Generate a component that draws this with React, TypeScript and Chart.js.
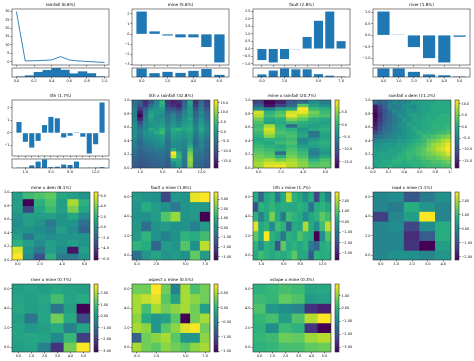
import React, { useEffect, useRef } from 'react';
import { Chart, registerables } from 'chart.js';

Chart.register(...registerables);

const FONT = 'DejaVu Sans';
Chart.defaults.font.family = FONT;

// ================= DATA =================
// categories
const mineCats = [0, 1, 2, 3, 4, 5, 6];
const faultCats = [0, 1, 2, 3, 4, 5, 6, 7];
const riverCats = [0, 1, 2, 3, 4, 5];
const lithCats = [0, 1, 2, 3, 4, 5, 6, 7, 8, 9, 10, 11, 12, 13];
const roadCats = [0, 1, 2, 3, 4];
const aspectCats = [0, 1, 2, 3, 4, 5, 6, 7];
const vslopeCats = [0, 1, 2, 3, 4, 5];

// rainfall (6.8%) shape function + histogram
const rainfallX = [0.0, 0.1, 0.2, 0.3, 0.4, 0.5, 0.6, 0.7, 0.8, 0.9, 1.0];
const rainfallEffect = [30, 0.4, 0.5, 0.7, 1.0, 3.0, 1.0, 0.4, 0.1, -0.2, -0.5];
const rainfallHistX = [0.05, 0.15, 0.25, 0.35, 0.45, 0.55, 0.65, 0.75, 0.85, 0.95];
const rainfallHist = [0.02, 0.15, 0.55, 0.78, 1.0, 0.8, 0.38, 0.62, 0.4, 0.03];

// mine (5.8%)
const mineEffect = [2.23, 0.27, -0.14, -0.32, -0.32, -1.27, -2.8];
const mineHist = [1.0, 0.45, 0.6, 0.48, 0.72, 0.93, 0.25];

// fault (2.8%)
const faultEffect = [-0.76, -0.92, -0.69, -0.03, 0.79, 1.88, 2.5, 0.51];
const faultHist = [0.3, 0.75, 1.0, 0.9, 0.9, 0.33, 0.15, 0.04];

// river (1.8%)
const riverEffect = [1.03, 0.02, -0.52, -1.0, -1.19, -0.07];
const riverHist = [1.0, 1.0, 0.6, 0.3, 0.2, 0.05];

// lith (1.7%)
const lithEffect = [0.87, -0.71, -1.17, -0.63, 0.63, 1.28, 1.17, -0.36, -0.22, 0.05, -0.3, -1.64, -0.9, 2.43];
const lithHist = [0.04, 0.04, 0.3, 0.75, 1.0, 0.1, 0.15, 0.4, 0.35, 0.75, 0.02, 0.03, 0.04, 0.1];

// heatmaps: rows listed top (highest y) to bottom
// lith x rainfall (32.8%): 20 rainfall bins x 14 lith classes
const lithRainGrid = [
  [-6, -8, -14, -9, -3, 4, -13, -15, -14, -8, 2, -14, -6, -12],
  [-5, -9, -13, -6, -2, 3, -12, -14, -15, -7, 1, -13, -5, -11],
  [-4, -12, -8, -2, -1, 1, -9, -10, -12, -5, 0, -10, -4, -9],
  [-3, -16, -6, 1, 0, -1, -7, -5, -8, -3, 1, -8, -2, -7],
  [-4, -18.6, -5, 2, -1, -2, -6, -3, -6, -2, 0, -7, -3, -6],
  [-3, -15, -4, 1, -2, -1, -5, -2, -5, -1, 2, -6, -1, -5],
  [-2, -10, -3, 0, -1, 0, -4, -1, -3, 0, 1, -5, 0, -4],
  [-1, -7, -2, -1, 0, 1, -3, 0, -2, 1, 2, -4, 1, -3],
  [-1, -5, -2, 2, 1, 4, -2, 3, 4, 2, 3, -3, 2, -2],
  [-2, -4, -1, 0, 3, 5, -3, 2, 1, 0, 2, -4, 0, -3],
  [-1, -5, -2, -1, 0, 1, -4, 1, 0, -1, 1, -5, -1, -4],
  [-3, -6, -3, -2, -1, 0, -5, 0, -1, -2, 0, -6, -2, -5],
  [-4, -7, -4, -3, -2, -1, -6, -1, -2, -3, 1, -7, -3, -6],
  [-4, -6, -5, -4, -3, -2, -6, -2, -3, -3, 3, -6, -3, -6],
  [-5, -7, -6, -5, -4, -4, -6, 2, -2, -4, 6, -5, -4, -7],
  [-6, -8, -7, -6, -6, -5, -7, 16.4, 3, -4, 9, -5, -5, -7],
  [-7, -8, -8, -7, -6, -6, -7, 14, 4, -4, 10, -6, -6, -8],
  [-7, -9, -8, -7, -7, -6, -8, 3, 2, -5, 11, -6, -6, -8],
  [-8, -9, -9, -8, -7, -7, -8, -2, 1, -5, 10, -7, -7, -9],
  [-8, -10, -9, -8, -8, -7, -9, -3, 0, -6, 9, -7, -7, -9],
];

// mine x rainfall (20.7%): 20 rainfall bins x 7 mine classes
const mineRainGrid = [
  [-12, -17.5, -15, -10, -8, -4, -6],
  [-9, -16, -12, -8, 3, -2, -4],
  [-4, -6, -2, -1, 10, 1, 0],
  [8, 0, 2, 8, 9, 4, 1],
  [7, 1, 3, 9, 6, 3, 2],
  [4, -1, 0, 5, 3, 0, -1],
  [2, -2, -1, 1, 0, -1, -2],
  [1, 6, 0, -8, -1, -2, -1],
  [2, 8, 1, 0, -3, -1, 0],
  [1, 7, 2, 1, -2, -7, -1],
  [0, 5, 1, 2, -1, -6, -2],
  [-1, 0, 0, 1, -5, -3, -1],
  [0, -1, 1, 2, -4, -1, 0],
  [1, 0, -1, 1, -2, -2, -1],
  [2, 1, 0, 2, 0, -5, -2],
  [3, 2, -8, 3, 1, -6, -3],
  [4, 3, 0, 4, 2, -4, -1],
  [5, 6, 4, 6, 4, 0, 2],
  [6, 8, 8, 7, 5, 2, 3],
  [6, 9, 9.5, 7, 5, 3, 3],
];

// rainfall x dem (11.2%): 16 dem bins (rows) x 16 rainfall bins (cols)
const rainDemGrid = [
  [-7, -9, -8, -6, -4, -5, -4, -3, -2, -2, -1, -1, -1, 0, 0, 0],
  [-16, -12, -9, -5, -6, -5, -3, -3, -4, -2, -1, -1, 0, 0, 0, 0],
  [-17, -13, -10, -7, -4, -5, -4, -2, -3, -2, -1, -1, 0, 0, 0, 0],
  [-18.1, -14, -10, -8, -6, -3, -4, -2, -1, -2, -1, 0, 0, 0, 1, 1],
  [-17, -13, -10, -8, -6, -5, -2, -3, -1, -1, -1, 0, 0, 1, 1, 1],
  [-16, -12, -9, -7, -6, -4, -3, -1, -2, -1, 0, 0, 1, 1, 1, 1],
  [-15, -11, -8, -7, -5, -4, -3, -2, 0, -1, 0, 0, 1, 1, 1, 2],
  [-12, -9, -7, -6, -5, -4, -3, -2, -1, 1, 0, 1, 1, 2, 2, 3],
  [-8, -7, -6, -5, -4, -3, -3, -2, -1, 0, 2, 2, 3, 4, 5, 6],
  [-5, -4, -4, -3, -3, -2, -2, -1, 0, 1, 2, 4, 5, 6, 8, 9],
  [-3, -3, -2, -2, -2, -1, -1, 0, 1, 2, 3, 5, 7, 8, 9, 11],
  [-2, -2, -2, -1, -1, -1, 0, 1, 2, 3, 4, 6, 7, 9, 10, 11.75],
  [-2, -1, -1, -1, -1, 0, 1, 2, 2, 3, 4, 5, 6, 7, 8, 10],
  [-1, -1, -1, -1, 0, 1, 1, 2, 1, 2, 3, 4, 4, 5, 6, 7],
  [-1, -1, 0, 0, 1, 1, 0, 1, 1, 1, 2, 2, 3, 3, 4, 5],
  [-1, 0, 0, 1, 0, 0, 0, 0, 1, 1, 1, 2, 2, 2, 3, 3],
];

// mine x dem (8.1%): 10 dem bins x 7 mine classes
const mineDemGrid = [
  [1.0, 2.5, 3.0, 3.5, 1.5, 1.0, 0.5],
  [1.0, -6.2, 2.0, 3.0, 1.0, 5.0, 2.0],
  [1.0, -3.5, 1.5, 2.5, 1.0, 4.0, 1.5],
  [0.5, 1.0, 1.0, 1.0, 0.5, 1.5, 0.0],
  [0.0, 1.0, 0.5, -1.0, 0.5, 0.5, -1.5],
  [0.5, 0.5, 0.0, -0.5, 1.0, 0.0, -2.0],
  [1.0, -1.0, 0.5, 0.0, 0.5, 0.5, 0.5],
  [2.0, 1.0, 0.0, 1.0, 0.5, 1.0, 0.5],
  [6.0, 0.5, -1.0, 1.0, 0.0, -5.5, 1.0],
  [6.7, 0.0, -3.0, 2.0, -1.0, -1.0, 0.5],
];

// fault x mine (1.8%): mine 6..0 (rows) x fault 0..7
const faultMineGrid = [
  [0.5, 0.3, 0.2, -1.8, 0.4, 0.3, 3.5, 3.73],
  [0.3, 1.0, 0.5, 0.2, -0.5, 0.3, 0.5, 0.4],
  [0.3, 0.2, 0.5, 1.8, 2.6, 0.3, 0.4, -3.34],
  [0.4, -0.8, 0.3, 0.5, 0.2, 0.3, -0.3, 0.5],
  [0.5, 1.2, 0.3, -0.3, 0.2, 1.2, 1.0, 1.5],
  [1.2, 1.0, -1.0, 0.5, 0.3, 1.8, 0.2, 3.0],
  [-0.8, 0.3, 0.8, 0.3, 0.5, 0.2, 2.0, 0.5],
];

// lith x mine (1.7%): mine 6..0 x lith 0..13
const lithMineGrid = [
  [0.3, -1.5, 0.2, 0.5, -1.0, 0.3, 2.3, 0.5, 0.2, -0.5, 0.3, -2.2, 0.2, -0.8],
  [-2.0, 0.5, 0.3, 0.6, 0.2, 0.4, 0.3, 0.2, 0.5, 0.3, -1.2, 0.3, 0.5, 0.2],
  [0.5, -0.8, 0.2, 1.5, 0.3, -1.0, 0.8, 0.5, 0.3, -0.5, 0.2, 0.5, 1.2, 0.8],
  [2.6, 0.2, 0.5, -0.5, 0.8, 0.5, -1.5, 0.3, 0.2, 2.0, 0.3, -0.5, 0.8, 2.2],
  [1.2, 0.3, 2.86, 0.5, 0.2, -1.0, 0.5, 0.3, 1.0, 0.5, 0.3, -3.64, -0.5, 1.0],
  [0.5, -0.5, 0.5, 0.3, -2.0, 1.2, 0.3, 0.5, 0.2, 0.5, -1.0, -1.5, 0.3, 0.5],
  [0.3, 0.8, 0.5, 0.2, 0.5, 0.3, 0.5, 1.2, 0.3, 0.2, -1.8, 0.5, 0.3, 0.4],
];

// road x mine (1.1%): mine 6..0 x road 0..4
const roadMineGrid = [
  [0.0, 0.1, -0.9, -0.2, 0.2],
  [0.0, -0.2, 0.8, 0.3, 0.0],
  [-1.3, 0.0, 0.5, 2.65, 0.0],
  [0.0, 0.1, -1.2, 0.1, 0.8],
  [0.0, 0.0, -1.6, -0.8, 0.8],
  [0.0, 0.0, -1.5, -2.24, 0.5],
  [0.0, 0.2, 0.2, 0.0, 0.3],
];

// river x mine (0.7%): mine 6..0 x river 0..5
const riverMineGrid = [
  [0.2, 0.3, 0.2, 0.4, 0.3, 0.2],
  [0.3, 0.2, 0.4, 1.0, 0.3, 0.5],
  [0.4, 0.2, 0.3, -0.8, 0.2, -3.09],
  [0.2, -0.8, 0.3, 1.5, 0.5, -1.8],
  [0.3, 0.0, 0.2, 0.5, -0.5, 0.3],
  [0.3, 0.4, 0.3, -0.3, 0.8, -2.0],
  [0.2, 0.3, -0.5, -2.2, 1.5, 2.8],
];

// aspect x mine (0.5%): mine 6..0 x aspect 0..7
const aspectMineGrid = [
  [0.3, 0.3, 0.82, 0.3, -0.5, 0.5, 0.1, 0.3],
  [0.5, 0.6, 0.7, 0.2, -0.2, 0.5, 0.4, 0.3],
  [0.5, 0.1, 0.5, 0.3, 0.4, 0.5, 0.3, -0.2],
  [0.4, -0.1, -0.3, -0.2, 0.2, -1.53, 0.3, 0.5],
  [0.5, 0.4, -0.3, 0.2, 0.4, 0.7, 0.8, 0.3],
  [-0.8, 0.3, 0.4, 0.5, 0.2, -0.3, -0.3, 0.4],
  [0.5, 0.3, 0.2, 0.4, 0.3, 0.2, 0.4, 0.5],
];

// vslope x mine (0.3%): mine 6..0 x vslope 0..5
const vslopeMineGrid = [
  [0.0, 0.1, 0.3, 0.2, -0.3, -0.2],
  [0.2, 0.1, 0.6, 0.4, -0.5, -0.4],
  [0.4, -0.6, -0.8, -1.0, -2.6, -2.9],
  [0.1, 0.3, -0.5, 0.4, 1.3, 1.9],
  [0.0, -0.8, 0.2, 0.0, -2.6, -3.36],
  [0.1, 0.2, 0.7, 0.6, 1.1, 1.3],
  [0.0, 0.1, 0.3, 0.3, 0.6, 0.7],
];

// tick values
const unitTicks = [0, 0.2, 0.4, 0.6, 0.8, 1.0];
const rainfallYTicks = [0, 5, 10, 15, 20, 25, 30];
const mineYTicks = [-3, -2, -1, 0, 1, 2];
const faultYTicks = [-1, -0.5, 0, 0.5, 1, 1.5, 2, 2.5];
const riverYTicks = [-1, -0.5, 0, 0.5, 1];
const lithYTicks = [-1, 0, 1, 2];
const mineLabelTicks = [0, 2, 4, 6];
const faultLabelTicks = [0, 2, 5, 7];
const lithLabelTicks = [1, 5, 8, 12];
const aspectLabelTicks = [0, 2, 5, 7];
const cbLithRain = [-15, -10, -5, 0, 5, 10, 15];
const cbMineRain = [-15, -10, -5, 0, 5];
const cbRainDem = [-15, -10, -5, 0, 5, 10];
const cbMineDem = [-6, -4, -2, 0, 2, 4, 6];
const cbFaultMine = [-3, -2, -1, 0, 1, 2, 3];
const cbLithMine = [-3, -2, -1, 0, 1, 2];
const cbRoadMine = [-2, -1, 0, 1, 2];
const cbRiverMine = [-3, -2, -1, 0, 1, 2];
const cbAspectMine = [-1.5, -1, -0.5, 0, 0.5];
const cbVslopeMine = [-3, -2, -1, 0, 1];

// ================= STYLE / LAYOUT =================
const TICK_PX = 3.5;
const TITLE_PX = 4.2;
const BLUE = '#1f77b4';
const INK = '#111111';
const COL_L = [12, 132, 253, 373];
const ROW_T = [9, 100, 192, 284];
const PAD_L = 14;
const TITLE_H = 8;
const LABEL_H = 8;
const BAR_W = 97;
const MAIN_H = 56;
const GAP = 3;
const HIST_H = 9;
const MARK_H = 3;
const HEAT_W = 78;
const HEAT_H = 68;
const CB_OFF = 82;
const CB_W = 4;
const CB_LAB = 18;

const VIRIDIS = [
  [68, 1, 84], [71, 44, 122], [59, 82, 139], [44, 114, 142], [33, 145, 140],
  [40, 174, 128], [94, 201, 98], [173, 220, 48], [253, 231, 37],
];
function viridis(t: number): string {
  const u = Math.max(0, Math.min(1, t)) * (VIRIDIS.length - 1);
  const i = Math.min(VIRIDIS.length - 2, Math.floor(u));
  const f = u - i;
  const a = VIRIDIS[i];
  const b = VIRIDIS[i + 1];
  const c = [0, 1, 2].map((k) => Math.round(a[k] + (b[k] - a[k]) * f));
  return `rgb(${c[0]},${c[1]},${c[2]})`;
}
function viridisGradient(chart: any) {
  const a = chart.chartArea;
  if (!a) return viridis(0.5);
  const g = chart.ctx.createLinearGradient(0, a.bottom, 0, a.top);
  VIRIDIS.forEach((c, i) => g.addColorStop(i / (VIRIDIS.length - 1), `rgb(${c[0]},${c[1]},${c[2]})`));
  return g;
}

const fmt = (v: number, d: number) => (v < 0 ? '\u2212' : '') + Math.abs(v).toFixed(d);
const fmtAll = (vs: number[], d: number) => vs.map((v) => fmt(v, d));

type Ax = { min: number; max: number; ticks: number[]; labels?: string[] };

function mkScale(a: Ax, position: string, size: number, marks = true): any {
  return {
    type: 'linear',
    position,
    min: a.min,
    max: a.max,
    offset: false,
    grid: {
      display: true,
      drawOnChartArea: false,
      drawTicks: marks,
      tickLength: 1.6,
      tickWidth: 0.5,
      tickColor: INK,
      lineWidth: 0.5,
      color: INK,
      offset: false,
    },
    border: { display: false },
    ticks: {
      display: !!a.labels,
      autoSkip: false,
      maxRotation: 0,
      minRotation: 0,
      padding: 0.8,
      color: INK,
      font: { family: FONT, size: TICK_PX },
      callback: (_v: any, i: number) => (a.labels ? a.labels[i] : ''),
    },
    afterBuildTicks: (s: any) => {
      s.ticks = a.ticks.map((value) => ({ value }));
    },
    afterFit: (s: any) => {
      if (position === 'bottom' || position === 'top') s.height = size;
      else s.width = size;
      s.paddingLeft = 0;
      s.paddingRight = 0;
      s.paddingTop = 0;
      s.paddingBottom = 0;
    },
  };
}

const framePlugin = {
  id: 'frame',
  afterDraw(chart: any) {
    const { ctx, chartArea: a } = chart;
    ctx.save();
    ctx.strokeStyle = '#333';
    ctx.lineWidth = 0.6;
    ctx.strokeRect(a.left, a.top, a.right - a.left, a.bottom - a.top);
    ctx.restore();
  },
};

function baseOptions(padding: any, title?: string): any {
  return {
    responsive: false,
    animation: false,
    devicePixelRatio: 1,
    events: [],
    layout: { padding, autoPadding: false },
    plugins: {
      legend: { display: false },
      tooltip: { enabled: false },
      title: title
        ? {
            display: true,
            text: title,
            fullSize: false,
            align: 'center',
            color: '#000',
            font: { family: FONT, size: TITLE_PX, weight: 'normal', lineHeight: 1.2 },
            padding: { top: 1.3, bottom: TITLE_H - 1.3 - TITLE_PX * 1.2 },
          }
        : { display: false },
    },
  };
}

type Spec = { key: string; x: number; y: number; w: number; h: number; make: () => any };

function barPanel(
  key: string, col: number, row: number, title: string, kind: 'bar' | 'line',
  xs: number[], ys: number[], xr: [number, number], yAx: Ax, marks: number[],
  hx: number[], hy: number[], histAx: Ax, histPct: number,
): Spec[] {
  const L = COL_L[col];
  const T = ROW_T[row];
  const w = PAD_L + BAR_W + 2;
  return [
    {
      key: key + '-main', x: L - PAD_L, y: T - TITLE_H, w, h: TITLE_H + MAIN_H + MARK_H,
      make: () => ({
        type: kind,
        data: {
          datasets: [{
            data: xs.map((x, i) => ({ x, y: ys[i] })),
            backgroundColor: BLUE, borderColor: BLUE,
            borderWidth: kind === 'line' ? 0.9 : 0,
            pointRadius: 0, tension: 0, fill: false,
            barPercentage: 0.8, categoryPercentage: 1,
          }],
        },
        options: {
          ...baseOptions({ top: 0, left: 0, right: 2, bottom: 0 }, title),
          scales: {
            x: mkScale({ min: xr[0], max: xr[1], ticks: marks }, 'bottom', MARK_H),
            y: mkScale(yAx, 'left', PAD_L),
          },
        },
        plugins: [framePlugin],
      }),
    },
    {
      key: key + '-hist', x: L - PAD_L, y: T + MAIN_H + GAP - 1, w, h: 1 + HIST_H + LABEL_H,
      make: () => ({
        type: 'bar',
        data: {
          datasets: [{
            data: hx.map((x, i) => ({ x, y: hy[i] })),
            backgroundColor: BLUE, borderWidth: 0,
            barPercentage: histPct, categoryPercentage: 1,
          }],
        },
        options: {
          ...baseOptions({ top: 1, left: PAD_L, right: 2, bottom: 0 }),
          scales: {
            x: mkScale({ ...histAx, min: xr[0], max: xr[1] }, 'bottom', LABEL_H),
            y: { type: 'linear', display: false, min: 0, max: 1.05 },
          },
        },
        plugins: [framePlugin],
      }),
    },
  ];
}

function unitBands(n: number): [number, number][] {
  const out: [number, number][] = [];
  for (let r = 0; r < n; r++) out.push([1 - (r + 1) / n, 1 - r / n]);
  return out;
}
function unitCenters(n: number): number[] {
  const out: number[] = [];
  for (let i = 0; i < n; i++) out.push((i + 0.5) / n);
  return out;
}
function catBands(cats: number[]): [number, number][] {
  return cats.slice().reverse().map((c) => [c - 0.5, c + 0.5] as [number, number]);
}

function heatPanel(
  key: string, col: number, row: number, title: string, grid: number[][],
  xCenters: number[], yBands: [number, number][], xAx: Ax, yAx: Ax, cbTicks: number[], cbDigits: number,
): Spec[] {
  const L = COL_L[col];
  const T = ROW_T[row];
  const flat = grid.flat();
  const vmin = Math.min(...flat);
  const vmax = Math.max(...flat);
  return [
    {
      key: key + '-heat', x: L - PAD_L, y: T - TITLE_H, w: PAD_L + HEAT_W + 1, h: TITLE_H + HEAT_H + LABEL_H,
      make: () => ({
        type: 'bar',
        data: {
          datasets: grid.map((rowVals, r) => ({
            data: rowVals.map((_v, c) => ({ x: xCenters[c], y: yBands[r] })),
            backgroundColor: rowVals.map((v) => viridis((v - vmin) / (vmax - vmin))),
            borderWidth: 0, barPercentage: 1, categoryPercentage: 1, grouped: false, inflateAmount: 0.4,
          })),
        },
        options: {
          ...baseOptions({ top: 0, left: 0, right: 1, bottom: 0 }, title),
          scales: { x: mkScale(xAx, 'bottom', LABEL_H), y: mkScale(yAx, 'left', PAD_L) },
        },
        plugins: [framePlugin],
      }),
    },
    {
      key: key + '-cb', x: L + CB_OFF - 1, y: T - 1, w: 1 + CB_W + CB_LAB, h: HEAT_H + 2,
      make: () => ({
        type: 'bar',
        data: {
          datasets: [{
            data: [{ x: 0, y: [vmin, vmax] }],
            backgroundColor: (ctx: any) => viridisGradient(ctx.chart),
            borderWidth: 0, barThickness: CB_W, inflateAmount: 0,
          }],
        },
        options: {
          ...baseOptions({ top: 1, left: 1, right: 0, bottom: 1 }),
          scales: {
            x: { type: 'linear', display: false, min: -0.5, max: 0.5, offset: false },
            y: mkScale({ min: vmin, max: vmax, ticks: cbTicks, labels: fmtAll(cbTicks, cbDigits) }, 'right', CB_LAB),
          },
        },
        plugins: [framePlugin],
      }),
    },
  ];
}

const unitAx: Ax = { min: 0, max: 1, ticks: unitTicks, labels: fmtAll(unitTicks, 1) };
const mineYAx: Ax = { min: -0.5, max: 6.5, ticks: mineLabelTicks, labels: fmtAll(mineLabelTicks, 1) };
const mineXAx: Ax = { min: -0.5, max: 6.5, ticks: mineLabelTicks, labels: fmtAll(mineLabelTicks, 1) };
const lithXAx: Ax = { min: -0.5, max: 13.5, ticks: lithLabelTicks, labels: fmtAll(lithLabelTicks, 1) };
const faultXAx: Ax = { min: -0.5, max: 7.5, ticks: faultLabelTicks, labels: fmtAll(faultLabelTicks, 1) };
const roadXAx: Ax = { min: -0.5, max: 4.5, ticks: roadCats, labels: fmtAll(roadCats, 1) };
const riverXAx: Ax = { min: -0.5, max: 5.5, ticks: riverCats, labels: fmtAll(riverCats, 1) };
const aspectXAx: Ax = { min: -0.5, max: 7.5, ticks: aspectLabelTicks, labels: fmtAll(aspectLabelTicks, 1) };
const vslopeXAx: Ax = { min: -0.5, max: 5.5, ticks: vslopeCats, labels: fmtAll(vslopeCats, 1) };

const SPECS: Spec[] = [
  ...barPanel('rainfall', 0, 0, 'rainfall (6.8%)', 'line', rainfallX, rainfallEffect, [-0.05, 1.05],
    { min: -2.03, max: 31.53, ticks: rainfallYTicks, labels: fmtAll(rainfallYTicks, 0) }, unitTicks,
    rainfallHistX, rainfallHist, { min: 0, max: 1, ticks: unitTicks, labels: fmtAll(unitTicks, 1) }, 1),
  ...barPanel('mine', 1, 0, 'mine (5.8%)', 'bar', mineCats, mineEffect, [-0.74, 6.74],
    { min: -3.05, max: 2.48, ticks: mineYTicks, labels: fmtAll(mineYTicks, 0) }, mineCats,
    mineCats, mineHist, { min: 0, max: 1, ticks: mineLabelTicks, labels: fmtAll(mineLabelTicks, 1) }, 0.8),
  ...barPanel('fault', 2, 0, 'fault (2.8%)', 'bar', faultCats, faultEffect, [-0.79, 7.79],
    { min: -1.09, max: 2.67, ticks: faultYTicks, labels: fmtAll(faultYTicks, 1) }, faultCats,
    faultCats, faultHist, { min: 0, max: 1, ticks: faultLabelTicks, labels: fmtAll(faultLabelTicks, 1) }, 0.8),
  ...barPanel('river', 3, 0, 'river (1.8%)', 'bar', riverCats, riverEffect, [-0.69, 5.69],
    { min: -1.3, max: 1.14, ticks: riverYTicks, labels: fmtAll(riverYTicks, 1) }, riverCats,
    riverCats, riverHist, { min: 0, max: 1, ticks: riverCats, labels: fmtAll(riverCats, 1) }, 0.8),
  ...barPanel('lith', 0, 1, 'lith (1.7%)', 'bar', lithCats, lithEffect, [-1.09, 14.09],
    { min: -1.84, max: 2.63, ticks: lithYTicks, labels: fmtAll(lithYTicks, 0) }, lithCats,
    lithCats, lithHist, { min: 0, max: 1, ticks: lithLabelTicks, labels: fmtAll(lithLabelTicks, 1) }, 0.8),
  ...heatPanel('lithRain', 1, 1, 'lith x rainfall (32.8%)', lithRainGrid, lithCats, unitBands(20), lithXAx, unitAx, cbLithRain, 1),
  ...heatPanel('mineRain', 2, 1, 'mine x rainfall (20.7%)', mineRainGrid, mineCats, unitBands(20), mineXAx, unitAx, cbMineRain, 1),
  ...heatPanel('rainDem', 3, 1, 'rainfall x dem (11.2%)', rainDemGrid, unitCenters(16), unitBands(16), unitAx, unitAx, cbRainDem, 1),
  ...heatPanel('mineDem', 0, 2, 'mine x dem (8.1%)', mineDemGrid, mineCats, unitBands(10), mineXAx, unitAx, cbMineDem, 1),
  ...heatPanel('faultMine', 1, 2, 'fault x mine (1.8%)', faultMineGrid, faultCats, catBands(mineCats), faultXAx, mineYAx, cbFaultMine, 2),
  ...heatPanel('lithMine', 2, 2, 'lith x mine (1.7%)', lithMineGrid, lithCats, catBands(mineCats), lithXAx, mineYAx, cbLithMine, 2),
  ...heatPanel('roadMine', 3, 2, 'road x mine (1.1%)', roadMineGrid, roadCats, catBands(mineCats), roadXAx, mineYAx, cbRoadMine, 2),
  ...heatPanel('riverMine', 0, 3, 'river x mine (0.7%)', riverMineGrid, riverCats, catBands(mineCats), riverXAx, mineYAx, cbRiverMine, 2),
  ...heatPanel('aspectMine', 1, 3, 'aspect x mine (0.5%)', aspectMineGrid, aspectCats, catBands(mineCats), aspectXAx, mineYAx, cbAspectMine, 2),
  ...heatPanel('vslopeMine', 2, 3, 'vslope x mine (0.3%)', vslopeMineGrid, vslopeCats, catBands(mineCats), vslopeXAx, mineYAx, cbVslopeMine, 2),
];

function ChartBox({ spec }: { spec: Spec }) {
  const ref = useRef<HTMLCanvasElement | null>(null);
  useEffect(() => {
    if (!ref.current) return;
    const chart = new Chart(ref.current, spec.make());
    return () => chart.destroy();
  }, [spec]);
  return (
    <canvas
      ref={ref}
      width={spec.w}
      height={spec.h}
      style={{ position: 'absolute', left: spec.x, top: spec.y, width: spec.w, height: spec.h }}
    />
  );
}

export default function App() {
  return (
    <div style={{ position: 'fixed', left: 0, top: 0, width: 474, height: 361, background: '#ffffff', overflow: 'hidden' }}>
      {SPECS.map((s) => (
        <ChartBox key={s.key} spec={s} />
      ))}
    </div>
  );
}
